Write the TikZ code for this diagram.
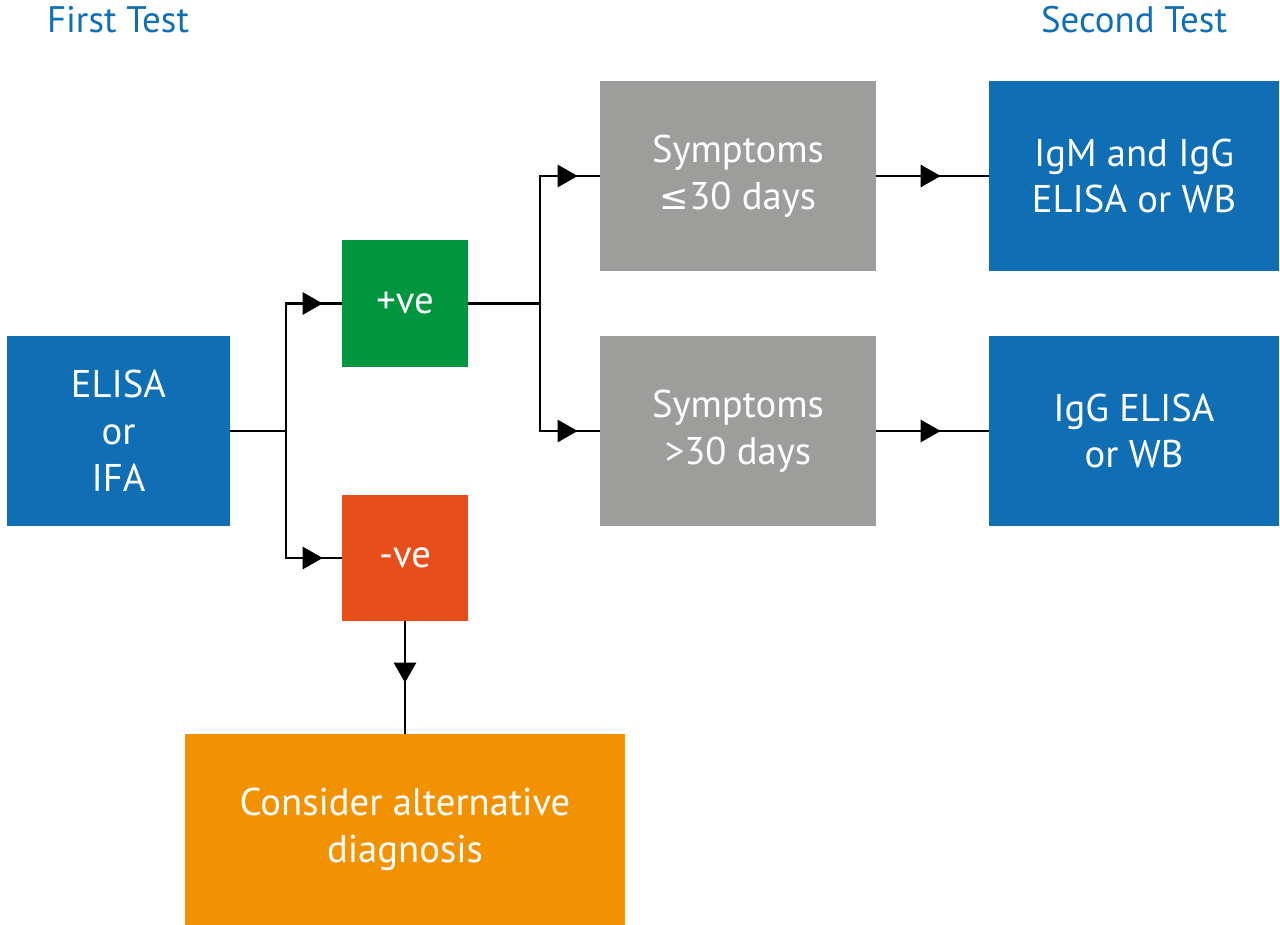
\documentclass[tikz,border=0pt]{standalone}
\usepackage{fontspec}
\setmainfont{PT Sans}
\newfontfamily\symfont{DejaVu Sans}
\usetikzlibrary{arrows.meta,decorations.markings,positioning}
\definecolor{testblue}{HTML}{106EB4}
\definecolor{posgreen}{HTML}{009640}
\definecolor{negred}{HTML}{E84E1B}
\definecolor{altorange}{HTML}{F39200}
\definecolor{symgray}{HTML}{9D9D9C}
\tikzset{
  box/.style={draw=none,text=white,align=center,inner sep=0pt,
    font=\fontsize{22}{26.7}\selectfont},
  head/.style={text=testblue,inner sep=0pt,font=\fontsize{21}{25}\selectfont},
  link/.style={line width=1.6pt},
  tipat/.style={postaction=decorate,decoration={markings,
    mark=at position #1 with {\arrow{Triangle[length=0.4cm,width=0.44cm]}}}}
}
\begin{document}
\begin{tikzpicture}[x=0.02cm,y=-0.02cm]
  \useasboundingbox (0,0) rectangle (1280,925);
  % headings
  \node[head] (first) at (118,20) {First Test};
  \node[head] (second) at (1134,20) {Second Test};
  % boxes
  \node[box,fill=testblue,minimum width=4.46cm,minimum height=3.8cm] (elisa) at (118.5,431) {ELISA\\or\\IFA};
  \node[box,fill=posgreen,minimum width=2.52cm,minimum height=2.54cm] (pos) at (405,303.5) {+ve};
  \node[box,fill=negred,minimum width=2.52cm,minimum height=2.52cm] (neg) at (405,558) {-ve};
  \node[box,fill=altorange,minimum width=8.8cm,minimum height=3.82cm] (alt) at (405,829.5) {Consider alternative\\diagnosis};
  \node[box,fill=symgray,minimum width=5.52cm,minimum height=3.8cm] (s1) at (738,176) {Symptoms\\{\symfont\fontsize{20}{26.7}\selectfont ≤}30 days};
  \node[box,fill=symgray,minimum width=5.52cm,minimum height=3.8cm] (s2) at (738,431) {Symptoms\\>30 days};
  \node[box,fill=testblue,minimum width=5.8cm,minimum height=3.8cm] (t1) at (1134,176) {IgM and IgG\\ELISA or WB};
  \node[box,fill=testblue,minimum width=5.8cm,minimum height=3.8cm] (t2) at (1134,431) {IgG ELISA\\or WB};
  % connectors
  \coordinate (fork1) at (286,431);
  \coordinate (fork2) at (540,303.5);
  \draw[link] (elisa.east) -- (fork1);
  \draw[link,tipat=-0.38cm] (fork1) |- (pos.west);
  \draw[link,tipat=-0.38cm] (fork1) |- (neg.west);
  \draw[link] (pos.east) -- (fork2);
  \draw[link,tipat=-0.44cm] (fork2) |- (s1.west);
  \draw[link,tipat=-0.44cm] (fork2) |- (s2.west);
  \draw[link,tipat=-0.96cm] (s1) -- (t1);
  \draw[link,tipat=-0.96cm] (s2) -- (t2);
  \draw[link,tipat=-1.02cm] (neg) -- (alt);
\end{tikzpicture}
\end{document}
